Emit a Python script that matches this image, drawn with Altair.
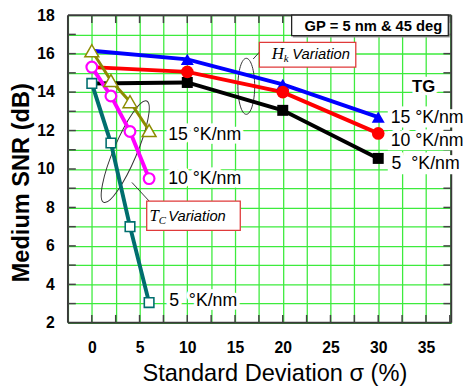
import altair as alt
import pandas as pd

# ---------------- data ----------------
sigma_hk = [0, 10, 20, 30]
snr_hk_15 = [16.15, 15.7, 14.4, 12.7]
snr_hk_10 = [15.3, 15.05, 14.0, 11.85]
snr_hk_5 = [14.45, 14.5, 13.05, 10.55]

sigma_tc = [0, 2, 4, 6]
snr_tc_15 = [16.15, 14.6, 13.5, 12.0]
snr_tc_10 = [15.3, 13.8, 11.95, 9.5]
snr_tc_5 = [14.45, 11.35, 7.0, 3.05]

x_ticks = [-2.5, 0, 2.5, 5, 7.5, 10, 12.5, 15, 17.5, 20, 22.5, 25, 27.5, 30, 32.5, 35, 37.5]
y_ticks = [2, 3, 4, 5, 6, 7, 8, 9, 10, 11, 12, 13, 14, 15, 16, 17, 18]

# annotation labels (data coordinates)
lab_text = ["15 °K/nm", "10 °K/nm", "5\u00a0\u00a0°K/nm", "15 °K/nm", "10 °K/nm", "5\u00a0\u00a0°K/nm"]
lab_x = [31.3, 31.3, 31.4, 8.0, 8.0, 8.1]
lab_y = [12.63, 11.47, 10.25, 11.77, 9.49, 3.11]

W, H = 390, 313
XT = "Standard Deviation σ (%)"
YT = "Medium SNR (dB)"
FONT = "Liberation Sans"
GRID = "#3DEB3D"
FRAME = "#3a3a3a"

xs = alt.Scale(domain=[-2.5, 37.65], nice=False, zero=False)
ys = alt.Scale(domain=[2, 18], nice=False, zero=False)

xaxis = alt.Axis(
    title=XT, values=x_ticks, grid=True, gridColor=GRID, gridWidth=1.3, gridOpacity=1,
    domain=False, ticks=False, labelPadding=17, labelFont=FONT, labelFontSize=16,
    labelFontWeight="bold", labelColor="black",
    labelExpr="datum.value % 5 === 0 ? datum.label : ''",
    titleFont=FONT, titleFontSize=24, titleFontWeight="normal", titleColor="black",
    titleX=210, titleY=52, titleAlign="center", titleBaseline="middle",
)
yaxis = alt.Axis(
    title=YT, values=y_ticks, grid=True, gridColor=GRID, gridWidth=1.3, gridOpacity=1,
    domain=False, ticks=False, labelPadding=14, labelFont=FONT, labelFontSize=16,
    labelFontWeight="bold", labelColor="black",
    labelExpr="datum.value % 2 === 0 ? datum.label : ''",
    titleFont=FONT, titleFontSize=24, titleFontWeight="bold", titleColor="black",
    titleX=-47, titleY=170, titleAlign="center", titleBaseline="middle", titleAngle=-90,
)


def X(f="sigma"):
    return alt.X(f"{f}:Q", scale=xs, axis=xaxis, title=XT)


def Y(f="snr"):
    return alt.Y(f"{f}:Q", scale=ys, axis=yaxis, title=YT)


def mkdf(xv, yv):
    return pd.DataFrame({"sigma": xv, "snr": yv})


layers = []

# ellipses and leader lines (beneath data)
k = 0.5523


def ellipse_path(a):
    return (f"M 0 -1 C {k*a:.4f} -1 {a} {-k:.4f} {a} 0 C {a} {k:.4f} {k*a:.4f} 1 0 1 "
            f"C {-k*a:.4f} 1 {-a} {k:.4f} {-a} 0 C {-a} {-k:.4f} {-k*a:.4f} -1 0 -1 Z")


ell_hk = mkdf([16.18], [14.3])
layers.append(alt.Chart(ell_hk).mark_point(
    shape=ellipse_path(0.3), size=57 ** 2, filled=False, stroke="#333333",
    strokeWidth=1, opacity=1).encode(x=X(), y=Y()))
ell_tc = mkdf([3.5], [10.9])
layers.append(alt.Chart(ell_tc).mark_point(
    shape=ellipse_path(0.21), size=112 ** 2, angle=23, filled=False, stroke="#333333",
    strokeWidth=1, opacity=1).encode(x=X(), y=Y()))

leaders = pd.DataFrame({"x1": [16.9, 4.2], "y1": [15.72, 9.3], "x2": [17.6, 6.1], "y2": [16.1, 8.28]})
layers.append(alt.Chart(leaders).mark_rule(color="#333333", strokeWidth=1).encode(
    x=X("x1"), y=Y("y1"), x2=alt.X2("x2"), y2=alt.Y2("y2")))

# Hk series
hk = [(snr_hk_15, "#0000FF", "triangle-up", 175),
      (snr_hk_5, "#000000", "square", 125),
      (snr_hk_10, "#FF0000", "circle", 165)]
for vals, col, shp, sz in hk:
    d = mkdf(sigma_hk, vals)
    layers.append(alt.Chart(d).mark_line(color=col, strokeWidth=4).encode(x=X(), y=Y()))
for vals, col, shp, sz in hk:
    d = mkdf(sigma_hk, vals)
    layers.append(alt.Chart(d).transform_filter("datum.sigma > 0").mark_point(
        shape=shp, filled=True, color=col, size=sz, opacity=1).encode(x=X(), y=Y()))

# Tc series
tc = [(snr_tc_5, "#006E6E", "square", 95, 4, 1.6),
      (snr_tc_10, "#FF00FF", "circle", 120, 4, 2.2),
      (snr_tc_15, "#8C8C00", "triangle-up", 200, 3, 1.5)]
for vals, col, shp, sz, lw, pw in tc:
    d = mkdf(sigma_tc, vals)
    layers.append(alt.Chart(d).mark_line(color=col, strokeWidth=lw).encode(x=X(), y=Y()))
    layers.append(alt.Chart(d).mark_point(
        shape=shp, filled=True, fill="white", stroke=col, strokeWidth=pw, size=sz,
        opacity=1).encode(x=X(), y=Y()))

# plot frame and inward tick marks on all four sides
one = pd.DataFrame({"a": [0]})
frame_rules = [
    dict(x=alt.value(0), y=alt.value(0), y2=alt.value(H)),
    dict(x=alt.value(W), y=alt.value(0), y2=alt.value(H)),
    dict(y=alt.value(0), x=alt.value(0), x2=alt.value(W)),
    dict(y=alt.value(H), x=alt.value(0), x2=alt.value(W)),
]
for enc in frame_rules:
    layers.append(alt.Chart(one).mark_rule(color=FRAME, strokeWidth=2).encode(**enc))

tick_col = "#444444"
xt = pd.DataFrame({"sigma": x_ticks[1:]})
yt = pd.DataFrame({"snr": y_ticks[1:-1]})
layers.append(alt.Chart(xt).mark_rule(color=tick_col, strokeWidth=1.5).encode(
    x=X(), y=alt.value(H), y2=alt.value(H - 8)))
layers.append(alt.Chart(xt).mark_rule(color=tick_col, strokeWidth=1.5).encode(
    x=X(), y=alt.value(0), y2=alt.value(8)))
layers.append(alt.Chart(yt).mark_rule(color=tick_col, strokeWidth=1.5).encode(
    y=Y(), x=alt.value(0), x2=alt.value(8)))
layers.append(alt.Chart(yt).mark_rule(color=tick_col, strokeWidth=1.5).encode(
    y=Y(), x=alt.value(W), x2=alt.value(W - 8)))

# white backgrounds of the right-hand labels (they hide the frame)
rbg = pd.DataFrame({
    "x1": [31.0, 31.0, 31.0],
    "x2": [39.3, 39.3, 39.3],
    "y1": [13.1, 11.97, 10.72],
    "y2": [12.16, 10.98, 9.72],
})
layers.append(alt.Chart(rbg).mark_rect(fill="white").encode(
    x=X("x1"), x2=alt.X2("x2"), y=Y("y1"), y2=alt.Y2("y2")))

# boxes
boxes = pd.DataFrame({
    "x1": [20.93, 17.55, 5.75],
    "x2": [37.34, 27.65, 15.55],
    "y1": [18.0, 16.58, 8.33],
    "y2": [16.94, 15.3, 6.81],
    "c": ["#222222", "#E03A3A", "#E03A3A"],
})
shadow = pd.DataFrame({"x1": [21.05], "x2": [37.5], "y1": [17.92], "y2": [16.84]})
layers.append(alt.Chart(shadow).mark_rect(fill="#9a9a9a").encode(
    x=X("x1"), x2=alt.X2("x2"), y=Y("y1"), y2=alt.Y2("y2")))
layers.append(alt.Chart(boxes).mark_rect(fill="white", strokeWidth=1.3).encode(
    x=X("x1"), x2=alt.X2("x2"), y=Y("y1"), y2=alt.Y2("y2"),
    stroke=alt.Stroke("c:N", scale=None)))

# label texts with white halo then text
labels = pd.DataFrame({"sigma": lab_x, "snr": lab_y, "t": lab_text})
layers.append(alt.Chart(labels).mark_text(
    align="left", baseline="middle", font=FONT, fontSize=18, stroke="white",
    strokeWidth=7, fill="white").encode(x=X(), y=Y(), text="t:N"))
layers.append(alt.Chart(labels).mark_text(
    align="left", baseline="middle", font=FONT, fontSize=18, color="black").encode(
    x=X(), y=Y(), text="t:N"))

tg = pd.DataFrame({"sigma": [34.75], "snr": [14.25], "t": ["TG"]})
layers.append(alt.Chart(tg).mark_text(
    align="center", baseline="middle", font=FONT, fontSize=17, fontWeight="bold",
    stroke="white", strokeWidth=7, fill="white").encode(x=X(), y=Y(), text="t:N"))
layers.append(alt.Chart(tg).mark_text(
    align="center", baseline="middle", font=FONT, fontSize=17, fontWeight="bold",
    color="black").encode(x=X(), y=Y(), text="t:N"))

gp = pd.DataFrame({"sigma": [29.5], "snr": [17.44], "t": ["GP = 5 nm & 45 deg"]})
layers.append(alt.Chart(gp).mark_text(
    align="center", baseline="middle", font=FONT, fontSize=15, fontWeight="bold",
    color="black").encode(x=X(), y=Y(), text="t:N"))

# italic variation labels
var_sans = pd.DataFrame({"sigma": [21.0, 8.0], "snr": [16.0, 7.57], "t": ["Variation", "Variation"]})
layers.append(alt.Chart(var_sans).mark_text(
    align="left", baseline="middle", font=FONT, fontSize=15, fontStyle="italic",
    color="black").encode(x=X(), y=Y(), text="t:N"))
var_main = pd.DataFrame({"sigma": [18.85, 6.05], "snr": [16.0, 7.57], "t": ["H", "T"]})
layers.append(alt.Chart(var_main).mark_text(
    align="left", baseline="middle", font="Liberation Serif", fontSize=17,
    fontStyle="italic", color="black").encode(x=X(), y=Y(), text="t:N"))
var_sub = pd.DataFrame({"sigma": [20.1, 7.0], "snr": [15.7, 7.27], "t": ["k", "C"]})
layers.append(alt.Chart(var_sub).mark_text(
    align="left", baseline="middle", font="Liberation Serif", fontSize=11,
    fontStyle="italic", color="black").encode(x=X(), y=Y(), text="t:N"))

chart = alt.layer(*layers).properties(
    width=W, height=H, autosize="none",
    padding={"left": 61, "top": 4, "right": 15, "bottom": 61},
    background="white",
).configure_view(strokeWidth=0)

chart.save("out.html", embed_options={"renderer": "svg", "actions": False})
